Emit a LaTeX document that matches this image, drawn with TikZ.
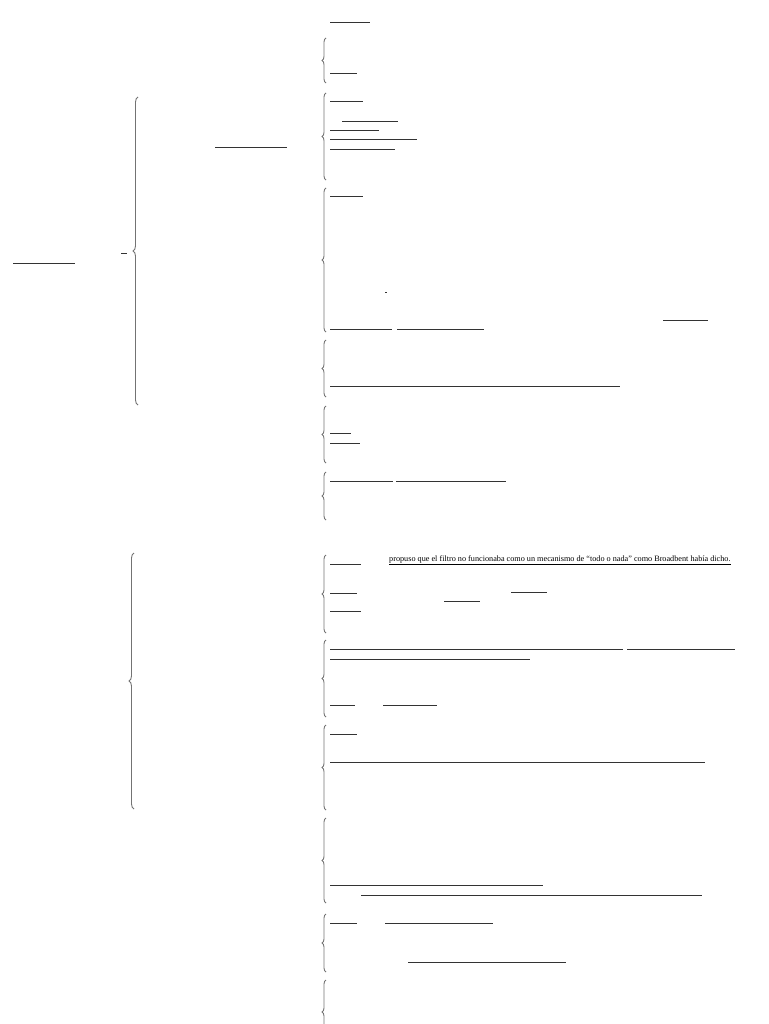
\documentclass[tikz,border=0pt]{standalone}
\usepackage{fontspec}
\setmainfont{Liberation Serif}
\usetikzlibrary{decorations.pathreplacing}
\begin{document}
\begin{tikzpicture}[x=1pt,y=-1pt]
        \tikzstyle{brace} = [draw=black!55, line width=0.9pt, decorate, decoration={brace, amplitude=4pt}]
        \tikzstyle{bigbrace} = [draw=black!55, line width=0.9pt, decorate, decoration={brace, amplitude=5pt}]
        \tikzstyle{rule} = [draw=black!80, line width=1pt]
        \useasboundingbox (0,0) rectangle (768,1024);

                % main braces
                \draw[bigbrace] (138,405) -- (138,97);
                \draw[bigbrace] (134,809) -- (134,553);
                \draw[rule] (121,253) -- (127,253);

                % sub braces
                \foreach \top/\bot in {38/83, 93/180, 188/332, 340/397, 406/463, 472/520,
                                       555/633, 640/717, 725/810, 818/903, 914/972, 980/1044}
                        \draw[brace] (326,\bot) -- (326,\top);

                % underlined words, first block
                \foreach \y/\a/\b in {263/13/75, 148/215/287,
                                      23/330/370, 74/330/357, 102/330/363, 122/342/398,
                                      131/330/379, 140/330/417, 150/330/395,
                                      197/330/363, 292/385/387, 320/663/708,
                                      329/330/392, 329/397/484, 386/330/620,
                                      433/330/351, 443/330/360, 481/330/393, 481/396/506}
                        \draw[rule] (\a,\y) -- (\b,\y);

                % underlined words, second block
                \foreach \y/\a/\b in {564/330/361, 593/330/357, 601/444/480, 592/511/547,
                                      611/330/361, 649/330/623, 649/627/735, 659/330/530,
                                      705/330/355, 705/383/437, 734/330/357, 762/330/705,
                                      885/330/543, 895/361/702, 923/330/357, 923/385/493,
                                      962/408/566}
                        \draw[rule] (\a,\y) -- (\b,\y);

                \node (propuso) [anchor=base west, inner sep=0pt, font=\fontsize{8.2}{9}\selectfont] at (389,561)
                        {\underline{propuso que el filtro no funcionaba como un mecanismo de “todo o nada” como Broadbent había dicho.}};
    \end{tikzpicture}
\end{document}
